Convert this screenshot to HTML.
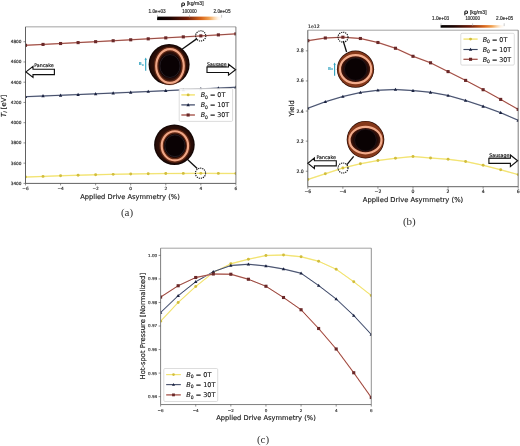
<!DOCTYPE html>
<html lang="en"><head><meta charset="utf-8"><title>Figure</title>
<style>
html,body{margin:0;padding:0;background:#fff;}
body{width:520px;height:446px;overflow:hidden;}
svg{display:block;filter:blur(0.3px);}
</style></head><body>
<svg width="520" height="446" viewBox="0 0 520 446">
<defs>
<linearGradient id="cb" x1="0" x2="1" y1="0" y2="0">
<stop offset="0" stop-color="#000"/><stop offset="0.2" stop-color="#1c0402"/><stop offset="0.45" stop-color="#6b1a08"/><stop offset="0.68" stop-color="#d8651a"/><stop offset="0.8" stop-color="#f0a050"/><stop offset="0.88" stop-color="#fbd6ac"/><stop offset="0.94" stop-color="#fff4e8"/><stop offset="1" stop-color="#fff"/>
</linearGradient>
<radialGradient id="dA" cx="0.5" cy="0.5" r="0.5">
<stop offset="0" stop-color="#1a0705"/><stop offset="0.75" stop-color="#2e100a"/><stop offset="0.9" stop-color="#260c07"/><stop offset="0.97" stop-color="#120403"/><stop offset="1" stop-color="#0a0201"/>
</radialGradient>
<radialGradient id="dB" cx="0.5" cy="0.5" r="0.5">
<stop offset="0" stop-color="#0c0303"/><stop offset="0.72" stop-color="#1a0604"/><stop offset="0.88" stop-color="#3e140a"/><stop offset="1" stop-color="#5a2010"/>
</radialGradient>
<filter id="bl" x="-20%" y="-20%" width="140%" height="140%"><feGaussianBlur stdDeviation="0.7"/></filter>
</defs>
<rect width="520" height="446" fill="#fff"/>

<clipPath id="ca"><rect x="25.5" y="26.85" width="210.4" height="156.55"/></clipPath>
<g clip-path="url(#ca)">
<path d="M25.50 177.06L43.03 176.38L60.57 175.76L78.10 175.22L95.63 174.74L113.17 174.34L130.70 174.00L148.23 173.73L165.77 173.54L183.30 173.41L200.83 173.36L218.37 173.38L235.90 173.46" fill="none" stroke="#faf2ae" stroke-width="1.5" stroke-linejoin="round"/>
<path d="M25.50 177.06L43.03 176.38L60.57 175.76L78.10 175.22L95.63 174.74L113.17 174.34L130.70 174.00L148.23 173.73L165.77 173.54L183.30 173.41L200.83 173.36L218.37 173.38L235.90 173.46" fill="none" stroke="#efdd5e" stroke-width="0.8" stroke-linejoin="round"/>
<circle cx="25.50" cy="177.06" r="1.45" fill="#d1bd3c"/>
<circle cx="43.03" cy="176.38" r="1.45" fill="#d1bd3c"/>
<circle cx="60.57" cy="175.76" r="1.45" fill="#d1bd3c"/>
<circle cx="78.10" cy="175.22" r="1.45" fill="#d1bd3c"/>
<circle cx="95.63" cy="174.74" r="1.45" fill="#d1bd3c"/>
<circle cx="113.17" cy="174.34" r="1.45" fill="#d1bd3c"/>
<circle cx="130.70" cy="174.00" r="1.45" fill="#d1bd3c"/>
<circle cx="148.23" cy="173.73" r="1.45" fill="#d1bd3c"/>
<circle cx="165.77" cy="173.54" r="1.45" fill="#d1bd3c"/>
<circle cx="183.30" cy="173.41" r="1.45" fill="#d1bd3c"/>
<circle cx="200.83" cy="173.36" r="1.45" fill="#d1bd3c"/>
<circle cx="218.37" cy="173.38" r="1.45" fill="#d1bd3c"/>
<circle cx="235.90" cy="173.46" r="1.45" fill="#d1bd3c"/>
</g>
<g clip-path="url(#ca)">
<path d="M25.50 96.66L43.03 95.99L60.57 95.29L78.10 94.57L95.63 93.83L113.17 93.08L130.70 92.30L148.23 91.50L165.77 90.68L183.30 89.85L200.83 88.99L218.37 88.11L235.90 87.22" fill="none" stroke="#b9c0d2" stroke-width="1.5" stroke-linejoin="round"/>
<path d="M25.50 96.66L43.03 95.99L60.57 95.29L78.10 94.57L95.63 93.83L113.17 93.08L130.70 92.30L148.23 91.50L165.77 90.68L183.30 89.85L200.83 88.99L218.37 88.11L235.90 87.22" fill="none" stroke="#27304c" stroke-width="0.8" stroke-linejoin="round"/>
<path d="M23.80 98.02L27.20 98.02L25.50 94.79Z" fill="#1a2240"/>
<path d="M41.33 97.35L44.73 97.35L43.03 94.12Z" fill="#1a2240"/>
<path d="M58.87 96.65L62.27 96.65L60.57 93.42Z" fill="#1a2240"/>
<path d="M76.40 95.93L79.80 95.93L78.10 92.70Z" fill="#1a2240"/>
<path d="M93.93 95.19L97.33 95.19L95.63 91.96Z" fill="#1a2240"/>
<path d="M111.47 94.44L114.87 94.44L113.17 91.21Z" fill="#1a2240"/>
<path d="M129.00 93.66L132.40 93.66L130.70 90.43Z" fill="#1a2240"/>
<path d="M146.53 92.86L149.93 92.86L148.23 89.63Z" fill="#1a2240"/>
<path d="M164.07 92.04L167.47 92.04L165.77 88.81Z" fill="#1a2240"/>
<path d="M181.60 91.21L185.00 91.21L183.30 87.98Z" fill="#1a2240"/>
<path d="M199.13 90.35L202.53 90.35L200.83 87.12Z" fill="#1a2240"/>
<path d="M216.67 89.47L220.07 89.47L218.37 86.24Z" fill="#1a2240"/>
<path d="M234.20 88.58L237.60 88.58L235.90 85.34Z" fill="#1a2240"/>
</g>
<g clip-path="url(#ca)">
<path d="M25.50 45.31L43.03 44.42L60.57 43.52L78.10 42.61L95.63 41.68L113.17 40.75L130.70 39.80L148.23 38.84L165.77 37.87L183.30 36.88L200.83 35.89L218.37 34.88L235.90 33.86" fill="none" stroke="#f3b8ae" stroke-width="1.5" stroke-linejoin="round"/>
<path d="M25.50 45.31L43.03 44.42L60.57 43.52L78.10 42.61L95.63 41.68L113.17 40.75L130.70 39.80L148.23 38.84L165.77 37.87L183.30 36.88L200.83 35.89L218.37 34.88L235.90 33.86" fill="none" stroke="#7a2e28" stroke-width="0.8" stroke-linejoin="round"/>
<rect x="23.95" y="43.76" width="3.10" height="3.10" fill="#6a2828"/>
<rect x="41.48" y="42.87" width="3.10" height="3.10" fill="#6a2828"/>
<rect x="59.02" y="41.97" width="3.10" height="3.10" fill="#6a2828"/>
<rect x="76.55" y="41.06" width="3.10" height="3.10" fill="#6a2828"/>
<rect x="94.08" y="40.13" width="3.10" height="3.10" fill="#6a2828"/>
<rect x="111.62" y="39.20" width="3.10" height="3.10" fill="#6a2828"/>
<rect x="129.15" y="38.25" width="3.10" height="3.10" fill="#6a2828"/>
<rect x="146.68" y="37.29" width="3.10" height="3.10" fill="#6a2828"/>
<rect x="164.22" y="36.32" width="3.10" height="3.10" fill="#6a2828"/>
<rect x="181.75" y="35.33" width="3.10" height="3.10" fill="#6a2828"/>
<rect x="199.28" y="34.34" width="3.10" height="3.10" fill="#6a2828"/>
<rect x="216.82" y="33.33" width="3.10" height="3.10" fill="#6a2828"/>
<rect x="234.35" y="32.31" width="3.10" height="3.10" fill="#6a2828"/>
</g>
<path d="M25.5 26.85H235.9" fill="none" stroke="#8c8c8c" stroke-width="0.8"/>
<path d="M235.9 26.85V183.4" fill="none" stroke="#666" stroke-width="0.85"/>
<path d="M25.5 26.85V183.4H235.9" fill="none" stroke="#585858" stroke-width="0.95"/>
<path d="M23.5 183.40H25.5" stroke="#4a4a4a" stroke-width="0.6"/>
<text x="21.5" y="184.9" font-size="4.3" text-anchor="end" fill="#333" font-family='"DejaVu Sans","Liberation Sans",sans-serif' textLength="10.8" lengthAdjust="spacingAndGlyphs"  stroke="#333" stroke-width="0.18">3400</text>
<path d="M23.5 163.16H25.5" stroke="#4a4a4a" stroke-width="0.6"/>
<text x="21.5" y="164.66" font-size="4.3" text-anchor="end" fill="#333" font-family='"DejaVu Sans","Liberation Sans",sans-serif' textLength="10.8" lengthAdjust="spacingAndGlyphs"  stroke="#333" stroke-width="0.18">3600</text>
<path d="M23.5 142.92H25.5" stroke="#4a4a4a" stroke-width="0.6"/>
<text x="21.5" y="144.42" font-size="4.3" text-anchor="end" fill="#333" font-family='"DejaVu Sans","Liberation Sans",sans-serif' textLength="10.8" lengthAdjust="spacingAndGlyphs"  stroke="#333" stroke-width="0.18">3800</text>
<path d="M23.5 122.68H25.5" stroke="#4a4a4a" stroke-width="0.6"/>
<text x="21.5" y="124.18" font-size="4.3" text-anchor="end" fill="#333" font-family='"DejaVu Sans","Liberation Sans",sans-serif' textLength="10.8" lengthAdjust="spacingAndGlyphs"  stroke="#333" stroke-width="0.18">4000</text>
<path d="M23.5 102.44H25.5" stroke="#4a4a4a" stroke-width="0.6"/>
<text x="21.5" y="103.94" font-size="4.3" text-anchor="end" fill="#333" font-family='"DejaVu Sans","Liberation Sans",sans-serif' textLength="10.8" lengthAdjust="spacingAndGlyphs"  stroke="#333" stroke-width="0.18">4200</text>
<path d="M23.5 82.20H25.5" stroke="#4a4a4a" stroke-width="0.6"/>
<text x="21.5" y="83.7" font-size="4.3" text-anchor="end" fill="#333" font-family='"DejaVu Sans","Liberation Sans",sans-serif' textLength="10.8" lengthAdjust="spacingAndGlyphs"  stroke="#333" stroke-width="0.18">4400</text>
<path d="M23.5 61.96H25.5" stroke="#4a4a4a" stroke-width="0.6"/>
<text x="21.5" y="63.46" font-size="4.3" text-anchor="end" fill="#333" font-family='"DejaVu Sans","Liberation Sans",sans-serif' textLength="10.8" lengthAdjust="spacingAndGlyphs"  stroke="#333" stroke-width="0.18">4600</text>
<path d="M23.5 41.72H25.5" stroke="#4a4a4a" stroke-width="0.6"/>
<text x="21.5" y="43.22" font-size="4.3" text-anchor="end" fill="#333" font-family='"DejaVu Sans","Liberation Sans",sans-serif' textLength="10.8" lengthAdjust="spacingAndGlyphs"  stroke="#333" stroke-width="0.18">4800</text>
<path d="M25.50 183.4V185.4" stroke="#4a4a4a" stroke-width="0.6"/>
<text x="25.5" y="190.1" font-size="4.3" text-anchor="middle" fill="#333" font-family='"DejaVu Sans","Liberation Sans",sans-serif'  stroke="#333" stroke-width="0.18">−6</text>
<path d="M60.57 183.4V185.4" stroke="#4a4a4a" stroke-width="0.6"/>
<text x="60.57" y="190.1" font-size="4.3" text-anchor="middle" fill="#333" font-family='"DejaVu Sans","Liberation Sans",sans-serif'  stroke="#333" stroke-width="0.18">−4</text>
<path d="M95.63 183.4V185.4" stroke="#4a4a4a" stroke-width="0.6"/>
<text x="95.63" y="190.1" font-size="4.3" text-anchor="middle" fill="#333" font-family='"DejaVu Sans","Liberation Sans",sans-serif'  stroke="#333" stroke-width="0.18">−2</text>
<path d="M130.70 183.4V185.4" stroke="#4a4a4a" stroke-width="0.6"/>
<text x="130.7" y="190.1" font-size="4.3" text-anchor="middle" fill="#333" font-family='"DejaVu Sans","Liberation Sans",sans-serif'  stroke="#333" stroke-width="0.18">0</text>
<path d="M165.77 183.4V185.4" stroke="#4a4a4a" stroke-width="0.6"/>
<text x="165.77" y="190.1" font-size="4.3" text-anchor="middle" fill="#333" font-family='"DejaVu Sans","Liberation Sans",sans-serif'  stroke="#333" stroke-width="0.18">2</text>
<path d="M200.83 183.4V185.4" stroke="#4a4a4a" stroke-width="0.6"/>
<text x="200.83" y="190.1" font-size="4.3" text-anchor="middle" fill="#333" font-family='"DejaVu Sans","Liberation Sans",sans-serif'  stroke="#333" stroke-width="0.18">4</text>
<path d="M235.90 183.4V185.4" stroke="#4a4a4a" stroke-width="0.6"/>
<text x="235.9" y="190.1" font-size="4.3" text-anchor="middle" fill="#333" font-family='"DejaVu Sans","Liberation Sans",sans-serif'  stroke="#333" stroke-width="0.18">6</text>
<text x="130" y="198.5" font-size="6.7" text-anchor="middle" fill="#1c1c1c" font-family='"DejaVu Sans","Liberation Sans",sans-serif' textLength="99.6" lengthAdjust="spacingAndGlyphs"  stroke="#1c1c1c" stroke-width="0.16">Applied Drive Asymmetry (%)</text>
<text transform="translate(5.8 106) rotate(-90)" font-size="6.9" text-anchor="middle" fill="#1c1c1c" stroke="#1c1c1c" stroke-width="0.16" font-family='"DejaVu Sans","Liberation Sans",sans-serif'><tspan font-style="italic">T</tspan><tspan font-size="5" dy="1.2" font-style="italic">i</tspan><tspan dy="-1.2"> [eV]</tspan></text>
<text x="127" y="216" font-size="11" text-anchor="middle" fill="#333" font-family='"Liberation Serif","DejaVu Serif",serif' >(a)</text>
<path d="M182 49.3L197 38.6" stroke="#111" stroke-width="1.3"/>
<circle cx="169.1" cy="64.4" r="20.5" fill="url(#dA)"/>
<ellipse cx="170" cy="66" rx="13.8" ry="16.9" fill="none" stroke="#8a3a1c" stroke-width="4.6" opacity="0.55" filter="url(#bl)"/>
<ellipse cx="170" cy="66" rx="13.8" ry="16.9" fill="none" stroke="#f0a686" stroke-width="2.15"/>
<ellipse cx="170" cy="66" rx="10.8" ry="12.2" fill="#100404" filter="url(#bl)"/>
<ellipse cx="170" cy="66" rx="10.100000000000001" ry="11.5" fill="#0a0204" stroke="#4a4552" stroke-width="0.4"/>
<circle cx="200.7" cy="35.9" r="5.1" fill="none" stroke="#111" stroke-width="1.1" stroke-dasharray="1.2 0.9"/>
<path d="M187 159L197.2 168.4" stroke="#111" stroke-width="1.3"/>
<circle cx="174.4" cy="144.7" r="20.3" fill="url(#dA)"/>
<ellipse cx="174.9" cy="145.8" rx="13.2" ry="14.6" fill="none" stroke="#8a3a1c" stroke-width="4.6" opacity="0.55" filter="url(#bl)"/>
<ellipse cx="174.9" cy="145.8" rx="13.2" ry="14.6" fill="none" stroke="#f0a686" stroke-width="2.15"/>
<ellipse cx="174.9" cy="145.8" rx="10.8" ry="11.6" fill="#100404" filter="url(#bl)"/>
<ellipse cx="174.9" cy="145.8" rx="10.100000000000001" ry="10.9" fill="#0a0204" stroke="#4a4552" stroke-width="0.4"/>
<circle cx="200.5" cy="173.2" r="5.1" fill="none" stroke="#111" stroke-width="1.1" stroke-dasharray="1.2 0.9"/>
<path d="M145.7 70.8V59.1" stroke="#33a3c0" stroke-width="1.15"/>
<path d="M144.5 59.800000000000004L145.7 57.6L146.89999999999998 59.800000000000004Z" fill="#33a3c0"/>
<text x="141.3" y="64.8" font-size="4" font-weight="bold" fill="#33a3c0" text-anchor="middle" font-family='"DejaVu Sans","Liberation Sans",sans-serif'>B<tspan font-size="2.8" dy="0.7">0</tspan></text>
<path d="M26 71.9L33 66.4V69.25H54.4V74.55000000000001H33V77.4Z" fill="#fff" stroke="#111" stroke-width="1.15" stroke-linejoin="miter"/>
<text x="44" y="66.6" font-size="4.9" text-anchor="middle" fill="#222" font-family='"DejaVu Sans","Liberation Sans",sans-serif' textLength="19.6" lengthAdjust="spacingAndGlyphs"  stroke="#222" stroke-width="0.18">Pancake</text>
<path d="M235.6 69.7L228.5 64.2V66.95H207V72.45H228.5V75.2Z" fill="#fff" stroke="#111" stroke-width="1.15" stroke-linejoin="miter"/>
<text x="216.8" y="65.5" font-size="4.9" text-anchor="middle" fill="#222" font-family='"DejaVu Sans","Liberation Sans",sans-serif' textLength="19.6" lengthAdjust="spacingAndGlyphs" text-decoration="underline" stroke="#222" stroke-width="0.18">Sausage</text>
<rect x="179.2" y="88.5" width="53.400000000000006" height="32.900000000000006" rx="1.2" fill="#fff" fill-opacity="0.9" stroke="#cfcfcf" stroke-width="0.7"/>
<path d="M181.4 94.9H194.9" stroke="#faf2ae" stroke-width="1.4"/>
<path d="M181.4 94.9H194.9" stroke="#efdd5e" stroke-width="0.85"/>
<circle cx="188.15" cy="94.90" r="1.45" fill="#d1bd3c"/>
<text x="200.7" y="97.30" font-size="6.6" fill="#222" stroke="#222" stroke-width="0.15" font-family='"DejaVu Sans","Liberation Sans",sans-serif' textLength="24.65" lengthAdjust="spacingAndGlyphs"><tspan font-style="italic">B</tspan><tspan font-size="4.62" dy="1.2">0</tspan><tspan dy="-1.2"> = 0T</tspan></text>
<path d="M181.4 104.9H194.9" stroke="#b9c0d2" stroke-width="1.4"/>
<path d="M181.4 104.9H194.9" stroke="#27304c" stroke-width="0.85"/>
<path d="M186.45 106.26L189.85 106.26L188.15 103.03Z" fill="#1a2240"/>
<text x="200.7" y="107.30" font-size="6.6" fill="#222" stroke="#222" stroke-width="0.15" font-family='"DejaVu Sans","Liberation Sans",sans-serif' textLength="28.5" lengthAdjust="spacingAndGlyphs"><tspan font-style="italic">B</tspan><tspan font-size="4.62" dy="1.2">0</tspan><tspan dy="-1.2"> = 10T</tspan></text>
<path d="M181.4 115.0H194.9" stroke="#f3b8ae" stroke-width="1.4"/>
<path d="M181.4 115.0H194.9" stroke="#7a2e28" stroke-width="0.85"/>
<rect x="186.60" y="113.45" width="3.10" height="3.10" fill="#6a2828"/>
<text x="200.7" y="117.40" font-size="6.6" fill="#222" stroke="#222" stroke-width="0.15" font-family='"DejaVu Sans","Liberation Sans",sans-serif' textLength="28.5" lengthAdjust="spacingAndGlyphs"><tspan font-style="italic">B</tspan><tspan font-size="4.62" dy="1.2">0</tspan><tspan dy="-1.2"> = 30T</tspan></text>
<rect x="157.1" y="16.6" width="64.9" height="3.5" fill="url(#cb)"/>
<path d="M157.50 14.8V17.6" stroke="#999" stroke-width="0.5"/>
<path d="M189.55 14.8V17.6" stroke="#999" stroke-width="0.5"/>
<path d="M221.60 14.8V17.6" stroke="#999" stroke-width="0.5"/>
<text x="157.1" y="12.5" font-size="4.6" text-anchor="middle" fill="#333" font-family='"Liberation Sans","DejaVu Sans",sans-serif' textLength="17" lengthAdjust="spacingAndGlyphs"  stroke="#333" stroke-width="0.18">1.0e+03</text>
<text x="189.55" y="12.5" font-size="4.6" text-anchor="middle" fill="#333" font-family='"Liberation Sans","DejaVu Sans",sans-serif' textLength="14.4" lengthAdjust="spacingAndGlyphs"  stroke="#333" stroke-width="0.18">100000</text>
<text x="222" y="12.5" font-size="4.6" text-anchor="middle" fill="#333" font-family='"Liberation Sans","DejaVu Sans",sans-serif' textLength="17" lengthAdjust="spacingAndGlyphs"  stroke="#333" stroke-width="0.18">2.0e+05</text>
<text x="182.95" y="5.6" font-size="6.4" font-weight="bold" fill="#111" font-family='"DejaVu Sans","Liberation Sans",sans-serif' text-anchor="middle">ρ</text>
<text x="195.15" y="5.3999999999999995" font-size="4.9" text-anchor="middle" fill="#333" font-family='"Liberation Sans","DejaVu Sans",sans-serif' textLength="17" lengthAdjust="spacingAndGlyphs"  stroke="#333" stroke-width="0.18">[kg/m3]</text>
<clipPath id="cbb"><rect x="307.8" y="30.2" width="210.40000000000003" height="156.5"/></clipPath>
<g clip-path="url(#cbb)">
<path d="M307.80 179.50L325.33 173.75L342.87 168.00L360.40 163.75L377.93 160.50L395.47 158.25L413.00 156.50L430.53 158.00L448.07 159.30L465.60 161.50L483.13 165.30L500.67 169.80L518.20 174.60" fill="none" stroke="#faf2ae" stroke-width="1.5" stroke-linejoin="round"/>
<path d="M307.80 179.50L325.33 173.75L342.87 168.00L360.40 163.75L377.93 160.50L395.47 158.25L413.00 156.50L430.53 158.00L448.07 159.30L465.60 161.50L483.13 165.30L500.67 169.80L518.20 174.60" fill="none" stroke="#efdd5e" stroke-width="0.8" stroke-linejoin="round"/>
<circle cx="307.80" cy="179.50" r="1.45" fill="#d1bd3c"/>
<circle cx="325.33" cy="173.75" r="1.45" fill="#d1bd3c"/>
<circle cx="342.87" cy="168.00" r="1.45" fill="#d1bd3c"/>
<circle cx="360.40" cy="163.75" r="1.45" fill="#d1bd3c"/>
<circle cx="377.93" cy="160.50" r="1.45" fill="#d1bd3c"/>
<circle cx="395.47" cy="158.25" r="1.45" fill="#d1bd3c"/>
<circle cx="413.00" cy="156.50" r="1.45" fill="#d1bd3c"/>
<circle cx="430.53" cy="158.00" r="1.45" fill="#d1bd3c"/>
<circle cx="448.07" cy="159.30" r="1.45" fill="#d1bd3c"/>
<circle cx="465.60" cy="161.50" r="1.45" fill="#d1bd3c"/>
<circle cx="483.13" cy="165.30" r="1.45" fill="#d1bd3c"/>
<circle cx="500.67" cy="169.80" r="1.45" fill="#d1bd3c"/>
<circle cx="518.20" cy="174.60" r="1.45" fill="#d1bd3c"/>
</g>
<g clip-path="url(#cbb)">
<path d="M307.80 108.25L325.33 101.75L342.87 96.50L360.40 92.50L377.93 90.25L395.47 89.50L413.00 90.60L430.53 92.30L448.07 95.50L465.60 100.50L483.13 106.30L500.67 112.70L518.20 120.30" fill="none" stroke="#b9c0d2" stroke-width="1.5" stroke-linejoin="round"/>
<path d="M307.80 108.25L325.33 101.75L342.87 96.50L360.40 92.50L377.93 90.25L395.47 89.50L413.00 90.60L430.53 92.30L448.07 95.50L465.60 100.50L483.13 106.30L500.67 112.70L518.20 120.30" fill="none" stroke="#27304c" stroke-width="0.8" stroke-linejoin="round"/>
<path d="M306.10 109.61L309.50 109.61L307.80 106.38Z" fill="#1a2240"/>
<path d="M323.63 103.11L327.03 103.11L325.33 99.88Z" fill="#1a2240"/>
<path d="M341.17 97.86L344.57 97.86L342.87 94.63Z" fill="#1a2240"/>
<path d="M358.70 93.86L362.10 93.86L360.40 90.63Z" fill="#1a2240"/>
<path d="M376.23 91.61L379.63 91.61L377.93 88.38Z" fill="#1a2240"/>
<path d="M393.77 90.86L397.17 90.86L395.47 87.63Z" fill="#1a2240"/>
<path d="M411.30 91.96L414.70 91.96L413.00 88.73Z" fill="#1a2240"/>
<path d="M428.83 93.66L432.23 93.66L430.53 90.43Z" fill="#1a2240"/>
<path d="M446.37 96.86L449.77 96.86L448.07 93.63Z" fill="#1a2240"/>
<path d="M463.90 101.86L467.30 101.86L465.60 98.63Z" fill="#1a2240"/>
<path d="M481.43 107.66L484.83 107.66L483.13 104.43Z" fill="#1a2240"/>
<path d="M498.97 114.06L502.37 114.06L500.67 110.83Z" fill="#1a2240"/>
<path d="M516.50 121.66L519.90 121.66L518.20 118.43Z" fill="#1a2240"/>
</g>
<g clip-path="url(#cbb)">
<path d="M307.80 40.70L325.33 38.00L342.87 37.20L360.40 38.50L377.93 42.50L395.47 48.25L413.00 56.30L430.53 62.80L448.07 71.60L465.60 80.40L483.13 89.70L500.67 99.40L518.20 109.40" fill="none" stroke="#f3b8ae" stroke-width="1.5" stroke-linejoin="round"/>
<path d="M307.80 40.70L325.33 38.00L342.87 37.20L360.40 38.50L377.93 42.50L395.47 48.25L413.00 56.30L430.53 62.80L448.07 71.60L465.60 80.40L483.13 89.70L500.67 99.40L518.20 109.40" fill="none" stroke="#7a2e28" stroke-width="0.8" stroke-linejoin="round"/>
<rect x="306.25" y="39.15" width="3.10" height="3.10" fill="#6a2828"/>
<rect x="323.78" y="36.45" width="3.10" height="3.10" fill="#6a2828"/>
<rect x="341.32" y="35.65" width="3.10" height="3.10" fill="#6a2828"/>
<rect x="358.85" y="36.95" width="3.10" height="3.10" fill="#6a2828"/>
<rect x="376.38" y="40.95" width="3.10" height="3.10" fill="#6a2828"/>
<rect x="393.92" y="46.70" width="3.10" height="3.10" fill="#6a2828"/>
<rect x="411.45" y="54.75" width="3.10" height="3.10" fill="#6a2828"/>
<rect x="428.98" y="61.25" width="3.10" height="3.10" fill="#6a2828"/>
<rect x="446.52" y="70.05" width="3.10" height="3.10" fill="#6a2828"/>
<rect x="464.05" y="78.85" width="3.10" height="3.10" fill="#6a2828"/>
<rect x="481.58" y="88.15" width="3.10" height="3.10" fill="#6a2828"/>
<rect x="499.12" y="97.85" width="3.10" height="3.10" fill="#6a2828"/>
<rect x="516.65" y="107.85" width="3.10" height="3.10" fill="#6a2828"/>
</g>
<path d="M307.8 30.2H518.2" fill="none" stroke="#8c8c8c" stroke-width="0.8"/>
<path d="M518.2 30.2V186.7" fill="none" stroke="#666" stroke-width="0.85"/>
<path d="M307.8 30.2V186.7H518.2" fill="none" stroke="#585858" stroke-width="0.95"/>
<path d="M305.8 171.25H307.8" stroke="#4a4a4a" stroke-width="0.6"/>
<text x="303.7" y="172.75" font-size="4.6" text-anchor="end" fill="#333" font-family='"DejaVu Sans","Liberation Sans",sans-serif'  stroke="#333" stroke-width="0.18">2.0</text>
<path d="M305.8 141.15H307.8" stroke="#4a4a4a" stroke-width="0.6"/>
<text x="303.7" y="142.65" font-size="4.6" text-anchor="end" fill="#333" font-family='"DejaVu Sans","Liberation Sans",sans-serif'  stroke="#333" stroke-width="0.18">2.2</text>
<path d="M305.8 111.05H307.8" stroke="#4a4a4a" stroke-width="0.6"/>
<text x="303.7" y="112.55" font-size="4.6" text-anchor="end" fill="#333" font-family='"DejaVu Sans","Liberation Sans",sans-serif'  stroke="#333" stroke-width="0.18">2.4</text>
<path d="M305.8 80.95H307.8" stroke="#4a4a4a" stroke-width="0.6"/>
<text x="303.7" y="82.45" font-size="4.6" text-anchor="end" fill="#333" font-family='"DejaVu Sans","Liberation Sans",sans-serif'  stroke="#333" stroke-width="0.18">2.6</text>
<path d="M305.8 50.85H307.8" stroke="#4a4a4a" stroke-width="0.6"/>
<text x="303.7" y="52.35" font-size="4.6" text-anchor="end" fill="#333" font-family='"DejaVu Sans","Liberation Sans",sans-serif'  stroke="#333" stroke-width="0.18">2.8</text>
<path d="M307.80 186.7V188.7" stroke="#4a4a4a" stroke-width="0.6"/>
<text x="307.8" y="193.3" font-size="4.6" text-anchor="middle" fill="#333" font-family='"DejaVu Sans","Liberation Sans",sans-serif'  stroke="#333" stroke-width="0.18">−6</text>
<path d="M342.87 186.7V188.7" stroke="#4a4a4a" stroke-width="0.6"/>
<text x="342.87" y="193.3" font-size="4.6" text-anchor="middle" fill="#333" font-family='"DejaVu Sans","Liberation Sans",sans-serif'  stroke="#333" stroke-width="0.18">−4</text>
<path d="M377.93 186.7V188.7" stroke="#4a4a4a" stroke-width="0.6"/>
<text x="377.93" y="193.3" font-size="4.6" text-anchor="middle" fill="#333" font-family='"DejaVu Sans","Liberation Sans",sans-serif'  stroke="#333" stroke-width="0.18">−2</text>
<path d="M413.00 186.7V188.7" stroke="#4a4a4a" stroke-width="0.6"/>
<text x="413.0" y="193.3" font-size="4.6" text-anchor="middle" fill="#333" font-family='"DejaVu Sans","Liberation Sans",sans-serif'  stroke="#333" stroke-width="0.18">0</text>
<path d="M448.07 186.7V188.7" stroke="#4a4a4a" stroke-width="0.6"/>
<text x="448.07" y="193.3" font-size="4.6" text-anchor="middle" fill="#333" font-family='"DejaVu Sans","Liberation Sans",sans-serif'  stroke="#333" stroke-width="0.18">2</text>
<path d="M483.13 186.7V188.7" stroke="#4a4a4a" stroke-width="0.6"/>
<text x="483.13" y="193.3" font-size="4.6" text-anchor="middle" fill="#333" font-family='"DejaVu Sans","Liberation Sans",sans-serif'  stroke="#333" stroke-width="0.18">4</text>
<path d="M518.20 186.7V188.7" stroke="#4a4a4a" stroke-width="0.6"/>
<text x="518.2" y="193.3" font-size="4.6" text-anchor="middle" fill="#333" font-family='"DejaVu Sans","Liberation Sans",sans-serif'  stroke="#333" stroke-width="0.18">6</text>
<text x="308" y="28.4" font-size="4.6" text-anchor="start" fill="#333" font-family='"DejaVu Sans","Liberation Sans",sans-serif'  stroke="#333" stroke-width="0.18">1e12</text>
<text x="413" y="201.7" font-size="6.75" text-anchor="middle" fill="#1c1c1c" font-family='"DejaVu Sans","Liberation Sans",sans-serif' textLength="100.4" lengthAdjust="spacingAndGlyphs"  stroke="#1c1c1c" stroke-width="0.16">Applied Drive Asymmetry (%)</text>
<text transform="translate(294.1 108.4) rotate(-90)" font-size="6.9" text-anchor="middle" fill="#1c1c1c" stroke="#1c1c1c" stroke-width="0.16" font-family='"DejaVu Sans","Liberation Sans",sans-serif'>Yield</text>
<text x="409.3" y="225" font-size="11" text-anchor="middle" fill="#333" font-family='"Liberation Serif","DejaVu Serif",serif' >(b)</text>
<path d="M343.2 41L346.6 52" stroke="#111" stroke-width="1.3"/>
<circle cx="355.5" cy="69.2" r="18.6" fill="#2a0c05"/>
<circle cx="355.5" cy="69.2" r="17.900000000000002" fill="#85381a"/>
<ellipse cx="355.6" cy="69.2" rx="15.6" ry="14" fill="url(#dB)" stroke="#f3ac8c" stroke-width="2.2"/>
<ellipse cx="355.6" cy="69.2" rx="11.2" ry="11.2" fill="#0a0203" stroke="#3a3040" stroke-width="0.35"/>
<circle cx="343" cy="37.2" r="5" fill="none" stroke="#111" stroke-width="1.1" stroke-dasharray="1.2 0.9"/>
<path d="M353.7 156.3L346.7 164.8" stroke="#111" stroke-width="1.3"/>
<circle cx="365.5" cy="139.7" r="18.8" fill="#2a0c05"/>
<circle cx="365.5" cy="139.7" r="18.1" fill="#85381a"/>
<ellipse cx="365.5" cy="140.1" rx="16" ry="13.2" fill="url(#dB)" stroke="#f3ac8c" stroke-width="2.2"/>
<ellipse cx="365.5" cy="140.1" rx="10.9" ry="10.9" fill="#0a0203" stroke="#3a3040" stroke-width="0.35"/>
<circle cx="343" cy="168" r="5" fill="none" stroke="#111" stroke-width="1.1" stroke-dasharray="1.2 0.9"/>
<path d="M334.6 75.8V64.1" stroke="#33a3c0" stroke-width="1.15"/>
<path d="M333.40000000000003 64.8L334.6 62.6L335.8 64.8Z" fill="#33a3c0"/>
<text x="330.5" y="69.6" font-size="4" font-weight="bold" fill="#33a3c0" text-anchor="middle" font-family='"DejaVu Sans","Liberation Sans",sans-serif'>B<tspan font-size="2.8" dy="0.7">0</tspan></text>
<path d="M307.9 163.3L314.4 158.0V160.75H336.3V165.85000000000002H314.4V168.60000000000002Z" fill="#fff" stroke="#111" stroke-width="1.15" stroke-linejoin="miter"/>
<text x="326.2" y="158.6" font-size="4.9" text-anchor="middle" fill="#222" font-family='"DejaVu Sans","Liberation Sans",sans-serif' textLength="19.6" lengthAdjust="spacingAndGlyphs"  stroke="#222" stroke-width="0.18">Pancake</text>
<path d="M517.6 160.8L510.4 155.0V158.25H488.9V163.35000000000002H510.4V166.60000000000002Z" fill="#fff" stroke="#111" stroke-width="1.15" stroke-linejoin="miter"/>
<text x="499.3" y="156.9" font-size="4.9" text-anchor="middle" fill="#222" font-family='"DejaVu Sans","Liberation Sans",sans-serif' textLength="20" lengthAdjust="spacingAndGlyphs" text-decoration="underline" stroke="#222" stroke-width="0.18">Sausage</text>
<rect x="460.8" y="33.3" width="53.49999999999994" height="31.799999999999997" rx="1.2" fill="#fff" fill-opacity="0.9" stroke="#cfcfcf" stroke-width="0.7"/>
<path d="M463.5 39.1H477.6" stroke="#faf2ae" stroke-width="1.4"/>
<path d="M463.5 39.1H477.6" stroke="#efdd5e" stroke-width="0.85"/>
<circle cx="470.55" cy="39.10" r="1.45" fill="#d1bd3c"/>
<text x="482.7" y="41.50" font-size="6.6" fill="#222" stroke="#222" stroke-width="0.15" font-family='"DejaVu Sans","Liberation Sans",sans-serif' textLength="24.65" lengthAdjust="spacingAndGlyphs"><tspan font-style="italic">B</tspan><tspan font-size="4.62" dy="1.2">0</tspan><tspan dy="-1.2"> = 0T</tspan></text>
<path d="M463.5 49.5H477.6" stroke="#b9c0d2" stroke-width="1.4"/>
<path d="M463.5 49.5H477.6" stroke="#27304c" stroke-width="0.85"/>
<path d="M468.85 50.86L472.25 50.86L470.55 47.63Z" fill="#1a2240"/>
<text x="482.7" y="51.90" font-size="6.6" fill="#222" stroke="#222" stroke-width="0.15" font-family='"DejaVu Sans","Liberation Sans",sans-serif' textLength="28.5" lengthAdjust="spacingAndGlyphs"><tspan font-style="italic">B</tspan><tspan font-size="4.62" dy="1.2">0</tspan><tspan dy="-1.2"> = 10T</tspan></text>
<path d="M463.5 59.3H477.6" stroke="#f3b8ae" stroke-width="1.4"/>
<path d="M463.5 59.3H477.6" stroke="#7a2e28" stroke-width="0.85"/>
<rect x="469.00" y="57.75" width="3.10" height="3.10" fill="#6a2828"/>
<text x="482.7" y="61.70" font-size="6.6" fill="#222" stroke="#222" stroke-width="0.15" font-family='"DejaVu Sans","Liberation Sans",sans-serif' textLength="28.5" lengthAdjust="spacingAndGlyphs"><tspan font-style="italic">B</tspan><tspan font-size="4.62" dy="1.2">0</tspan><tspan dy="-1.2"> = 30T</tspan></text>
<rect x="440.6" y="25.1" width="64.0" height="2.599999999999998" fill="url(#cb)"/>
<path d="M441.00 23.3V26.1" stroke="#999" stroke-width="0.5"/>
<path d="M472.60 23.3V26.1" stroke="#999" stroke-width="0.5"/>
<path d="M504.20 23.3V26.1" stroke="#999" stroke-width="0.5"/>
<text x="440.6" y="19.9" font-size="4.6" text-anchor="middle" fill="#333" font-family='"Liberation Sans","DejaVu Sans",sans-serif' textLength="17" lengthAdjust="spacingAndGlyphs"  stroke="#333" stroke-width="0.18">1.0e+03</text>
<text x="472.6" y="19.9" font-size="4.6" text-anchor="middle" fill="#333" font-family='"Liberation Sans","DejaVu Sans",sans-serif' textLength="14.4" lengthAdjust="spacingAndGlyphs"  stroke="#333" stroke-width="0.18">100000</text>
<text x="504.6" y="19.9" font-size="4.6" text-anchor="middle" fill="#333" font-family='"Liberation Sans","DejaVu Sans",sans-serif' textLength="17" lengthAdjust="spacingAndGlyphs"  stroke="#333" stroke-width="0.18">2.0e+05</text>
<text x="466.00" y="13.9" font-size="6.4" font-weight="bold" fill="#111" font-family='"DejaVu Sans","Liberation Sans",sans-serif' text-anchor="middle">ρ</text>
<text x="478.20000000000005" y="13.700000000000001" font-size="4.9" text-anchor="middle" fill="#333" font-family='"Liberation Sans","DejaVu Sans",sans-serif' textLength="17" lengthAdjust="spacingAndGlyphs"  stroke="#333" stroke-width="0.18">[kg/m3]</text>
<clipPath id="cc"><rect x="160.6" y="248.2" width="210.70000000000002" height="156.35000000000002"/></clipPath>
<g clip-path="url(#cc)">
<path d="M160.60 321.25L178.16 302.50L195.72 286.50L213.28 272.50L230.83 263.75L248.39 259.25L265.95 255.50L283.51 255.00L301.07 256.75L318.62 261.25L336.18 269.25L353.74 281.75L371.30 295.50" fill="none" stroke="#faf2ae" stroke-width="1.3" stroke-linejoin="round"/>
<path d="M160.60 321.25L178.16 302.50L195.72 286.50L213.28 272.50L230.83 263.75L248.39 259.25L265.95 255.50L283.51 255.00L301.07 256.75L318.62 261.25L336.18 269.25L353.74 281.75L371.30 295.50" fill="none" stroke="#efdd5e" stroke-width="0.8" stroke-linejoin="round"/>
<circle cx="160.60" cy="321.25" r="1.45" fill="#d1bd3c"/>
<circle cx="178.16" cy="302.50" r="1.45" fill="#d1bd3c"/>
<circle cx="195.72" cy="286.50" r="1.45" fill="#d1bd3c"/>
<circle cx="213.28" cy="272.50" r="1.45" fill="#d1bd3c"/>
<circle cx="230.83" cy="263.75" r="1.45" fill="#d1bd3c"/>
<circle cx="248.39" cy="259.25" r="1.45" fill="#d1bd3c"/>
<circle cx="265.95" cy="255.50" r="1.45" fill="#d1bd3c"/>
<circle cx="283.51" cy="255.00" r="1.45" fill="#d1bd3c"/>
<circle cx="301.07" cy="256.75" r="1.45" fill="#d1bd3c"/>
<circle cx="318.62" cy="261.25" r="1.45" fill="#d1bd3c"/>
<circle cx="336.18" cy="269.25" r="1.45" fill="#d1bd3c"/>
<circle cx="353.74" cy="281.75" r="1.45" fill="#d1bd3c"/>
<circle cx="371.30" cy="295.50" r="1.45" fill="#d1bd3c"/>
</g>
<g clip-path="url(#cc)">
<path d="M160.60 312.50L178.16 295.75L195.72 281.75L213.28 271.75L230.83 265.50L248.39 264.25L265.95 266.00L283.51 269.00L301.07 273.25L318.62 285.50L336.18 299.00L353.74 315.50L371.30 334.50" fill="none" stroke="#b9c0d2" stroke-width="1.3" stroke-linejoin="round"/>
<path d="M160.60 312.50L178.16 295.75L195.72 281.75L213.28 271.75L230.83 265.50L248.39 264.25L265.95 266.00L283.51 269.00L301.07 273.25L318.62 285.50L336.18 299.00L353.74 315.50L371.30 334.50" fill="none" stroke="#27304c" stroke-width="0.8" stroke-linejoin="round"/>
<path d="M158.90 313.86L162.30 313.86L160.60 310.63Z" fill="#1a2240"/>
<path d="M176.46 297.11L179.86 297.11L178.16 293.88Z" fill="#1a2240"/>
<path d="M194.02 283.11L197.42 283.11L195.72 279.88Z" fill="#1a2240"/>
<path d="M211.58 273.11L214.97 273.11L213.28 269.88Z" fill="#1a2240"/>
<path d="M229.13 266.86L232.53 266.86L230.83 263.63Z" fill="#1a2240"/>
<path d="M246.69 265.61L250.09 265.61L248.39 262.38Z" fill="#1a2240"/>
<path d="M264.25 267.36L267.65 267.36L265.95 264.13Z" fill="#1a2240"/>
<path d="M281.81 270.36L285.21 270.36L283.51 267.13Z" fill="#1a2240"/>
<path d="M299.37 274.61L302.77 274.61L301.07 271.38Z" fill="#1a2240"/>
<path d="M316.93 286.86L320.32 286.86L318.62 283.63Z" fill="#1a2240"/>
<path d="M334.48 300.36L337.88 300.36L336.18 297.13Z" fill="#1a2240"/>
<path d="M352.04 316.86L355.44 316.86L353.74 313.63Z" fill="#1a2240"/>
<path d="M369.60 335.86L373.00 335.86L371.30 332.63Z" fill="#1a2240"/>
</g>
<g clip-path="url(#cc)">
<path d="M160.60 297.10L178.16 285.75L195.72 277.50L213.28 274.00L230.83 274.25L248.39 279.25L265.95 286.25L283.51 297.50L301.07 309.75L318.62 328.50L336.18 349.00L353.74 372.75L371.30 397.50" fill="none" stroke="#f3b8ae" stroke-width="1.3" stroke-linejoin="round"/>
<path d="M160.60 297.10L178.16 285.75L195.72 277.50L213.28 274.00L230.83 274.25L248.39 279.25L265.95 286.25L283.51 297.50L301.07 309.75L318.62 328.50L336.18 349.00L353.74 372.75L371.30 397.50" fill="none" stroke="#7a2e28" stroke-width="0.8" stroke-linejoin="round"/>
<rect x="159.05" y="295.55" width="3.10" height="3.10" fill="#6a2828"/>
<rect x="176.61" y="284.20" width="3.10" height="3.10" fill="#6a2828"/>
<rect x="194.17" y="275.95" width="3.10" height="3.10" fill="#6a2828"/>
<rect x="211.72" y="272.45" width="3.10" height="3.10" fill="#6a2828"/>
<rect x="229.28" y="272.70" width="3.10" height="3.10" fill="#6a2828"/>
<rect x="246.84" y="277.70" width="3.10" height="3.10" fill="#6a2828"/>
<rect x="264.40" y="284.70" width="3.10" height="3.10" fill="#6a2828"/>
<rect x="281.96" y="295.95" width="3.10" height="3.10" fill="#6a2828"/>
<rect x="299.52" y="308.20" width="3.10" height="3.10" fill="#6a2828"/>
<rect x="317.07" y="326.95" width="3.10" height="3.10" fill="#6a2828"/>
<rect x="334.63" y="347.45" width="3.10" height="3.10" fill="#6a2828"/>
<rect x="352.19" y="371.20" width="3.10" height="3.10" fill="#6a2828"/>
<rect x="369.75" y="395.95" width="3.10" height="3.10" fill="#6a2828"/>
</g>
<path d="M160.6 248.2H371.3" fill="none" stroke="#8c8c8c" stroke-width="0.8"/>
<path d="M371.3 248.2V404.55" fill="none" stroke="#7c7c7c" stroke-width="0.85"/>
<path d="M160.6 248.2V404.55H371.3" fill="none" stroke="#787878" stroke-width="0.95"/>
<path d="M158.6 255.40H160.6" stroke="#4a4a4a" stroke-width="0.6"/>
<text x="157.2" y="256.8" font-size="4.1" text-anchor="end" fill="#333" font-family='"DejaVu Sans","Liberation Sans",sans-serif'  stroke="#333" stroke-width="0.16">1.00</text>
<path d="M158.6 278.94H160.6" stroke="#4a4a4a" stroke-width="0.6"/>
<text x="157.2" y="280.34" font-size="4.1" text-anchor="end" fill="#333" font-family='"DejaVu Sans","Liberation Sans",sans-serif'  stroke="#333" stroke-width="0.16">0.99</text>
<path d="M158.6 302.48H160.6" stroke="#4a4a4a" stroke-width="0.6"/>
<text x="157.2" y="303.88" font-size="4.1" text-anchor="end" fill="#333" font-family='"DejaVu Sans","Liberation Sans",sans-serif'  stroke="#333" stroke-width="0.16">0.98</text>
<path d="M158.6 326.02H160.6" stroke="#4a4a4a" stroke-width="0.6"/>
<text x="157.2" y="327.42" font-size="4.1" text-anchor="end" fill="#333" font-family='"DejaVu Sans","Liberation Sans",sans-serif'  stroke="#333" stroke-width="0.16">0.97</text>
<path d="M158.6 349.56H160.6" stroke="#4a4a4a" stroke-width="0.6"/>
<text x="157.2" y="350.96" font-size="4.1" text-anchor="end" fill="#333" font-family='"DejaVu Sans","Liberation Sans",sans-serif'  stroke="#333" stroke-width="0.16">0.96</text>
<path d="M158.6 373.10H160.6" stroke="#4a4a4a" stroke-width="0.6"/>
<text x="157.2" y="374.5" font-size="4.1" text-anchor="end" fill="#333" font-family='"DejaVu Sans","Liberation Sans",sans-serif'  stroke="#333" stroke-width="0.16">0.95</text>
<path d="M158.6 396.64H160.6" stroke="#4a4a4a" stroke-width="0.6"/>
<text x="157.2" y="398.04" font-size="4.1" text-anchor="end" fill="#333" font-family='"DejaVu Sans","Liberation Sans",sans-serif'  stroke="#333" stroke-width="0.16">0.94</text>
<path d="M160.60 404.55V406.55" stroke="#4a4a4a" stroke-width="0.6"/>
<text x="160.6" y="411.7" font-size="4.1" text-anchor="middle" fill="#333" font-family='"DejaVu Sans","Liberation Sans",sans-serif'  stroke="#333" stroke-width="0.16">−6</text>
<path d="M195.72 404.55V406.55" stroke="#4a4a4a" stroke-width="0.6"/>
<text x="195.72" y="411.7" font-size="4.1" text-anchor="middle" fill="#333" font-family='"DejaVu Sans","Liberation Sans",sans-serif'  stroke="#333" stroke-width="0.16">−4</text>
<path d="M230.83 404.55V406.55" stroke="#4a4a4a" stroke-width="0.6"/>
<text x="230.83" y="411.7" font-size="4.1" text-anchor="middle" fill="#333" font-family='"DejaVu Sans","Liberation Sans",sans-serif'  stroke="#333" stroke-width="0.16">−2</text>
<path d="M265.95 404.55V406.55" stroke="#4a4a4a" stroke-width="0.6"/>
<text x="265.95" y="411.7" font-size="4.1" text-anchor="middle" fill="#333" font-family='"DejaVu Sans","Liberation Sans",sans-serif'  stroke="#333" stroke-width="0.16">0</text>
<path d="M301.07 404.55V406.55" stroke="#4a4a4a" stroke-width="0.6"/>
<text x="301.07" y="411.7" font-size="4.1" text-anchor="middle" fill="#333" font-family='"DejaVu Sans","Liberation Sans",sans-serif'  stroke="#333" stroke-width="0.16">2</text>
<path d="M336.18 404.55V406.55" stroke="#4a4a4a" stroke-width="0.6"/>
<text x="336.18" y="411.7" font-size="4.1" text-anchor="middle" fill="#333" font-family='"DejaVu Sans","Liberation Sans",sans-serif'  stroke="#333" stroke-width="0.16">4</text>
<path d="M371.30 404.55V406.55" stroke="#4a4a4a" stroke-width="0.6"/>
<text x="371.3" y="411.7" font-size="4.1" text-anchor="middle" fill="#333" font-family='"DejaVu Sans","Liberation Sans",sans-serif'  stroke="#333" stroke-width="0.16">6</text>
<text x="266" y="419.8" font-size="6.7" text-anchor="middle" fill="#1c1c1c" font-family='"DejaVu Sans","Liberation Sans",sans-serif' textLength="99.6" lengthAdjust="spacingAndGlyphs"  stroke="#1c1c1c" stroke-width="0.16">Applied Drive Asymmetry (%)</text>
<text transform="translate(145.4 326.2) rotate(-90)" font-size="6.8" text-anchor="middle" fill="#1c1c1c" stroke="#1c1c1c" stroke-width="0.16" font-family='"DejaVu Sans","Liberation Sans",sans-serif' textLength="106.6" lengthAdjust="spacingAndGlyphs">Hot-spot Pressure [Normalized]</text>
<text x="263" y="443" font-size="11" text-anchor="middle" fill="#333" font-family='"Liberation Serif","DejaVu Serif",serif' >(c)</text>
<rect x="163.8" y="368.5" width="53.89999999999998" height="33.0" rx="1.2" fill="#fff" fill-opacity="0.9" stroke="#cfcfcf" stroke-width="0.7"/>
<path d="M166.2 374.6H180.8" stroke="#faf2ae" stroke-width="1.3"/>
<path d="M166.2 374.6H180.8" stroke="#efdd5e" stroke-width="0.8"/>
<circle cx="173.50" cy="374.60" r="1.30" fill="#d1bd3c"/>
<text x="186.2" y="377.00" font-size="6.6" fill="#222" stroke="#222" stroke-width="0.15" font-family='"DejaVu Sans","Liberation Sans",sans-serif' textLength="25.26" lengthAdjust="spacingAndGlyphs"><tspan font-style="italic">B</tspan><tspan font-size="4.62" dy="1.2">0</tspan><tspan dy="-1.2"> = 0T</tspan></text>
<path d="M166.2 384.6H180.8" stroke="#b9c0d2" stroke-width="1.3"/>
<path d="M166.2 384.6H180.8" stroke="#27304c" stroke-width="0.8"/>
<path d="M171.97 385.82L175.03 385.82L173.50 382.92Z" fill="#1a2240"/>
<text x="186.2" y="387.00" font-size="6.6" fill="#222" stroke="#222" stroke-width="0.15" font-family='"DejaVu Sans","Liberation Sans",sans-serif' textLength="29.2" lengthAdjust="spacingAndGlyphs"><tspan font-style="italic">B</tspan><tspan font-size="4.62" dy="1.2">0</tspan><tspan dy="-1.2"> = 10T</tspan></text>
<path d="M166.2 394.9H180.8" stroke="#f3b8ae" stroke-width="1.3"/>
<path d="M166.2 394.9H180.8" stroke="#7a2e28" stroke-width="0.8"/>
<rect x="172.10" y="393.50" width="2.79" height="2.79" fill="#6a2828"/>
<text x="186.2" y="397.30" font-size="6.6" fill="#222" stroke="#222" stroke-width="0.15" font-family='"DejaVu Sans","Liberation Sans",sans-serif' textLength="29.2" lengthAdjust="spacingAndGlyphs"><tspan font-style="italic">B</tspan><tspan font-size="4.62" dy="1.2">0</tspan><tspan dy="-1.2"> = 30T</tspan></text>
</svg></body></html>
